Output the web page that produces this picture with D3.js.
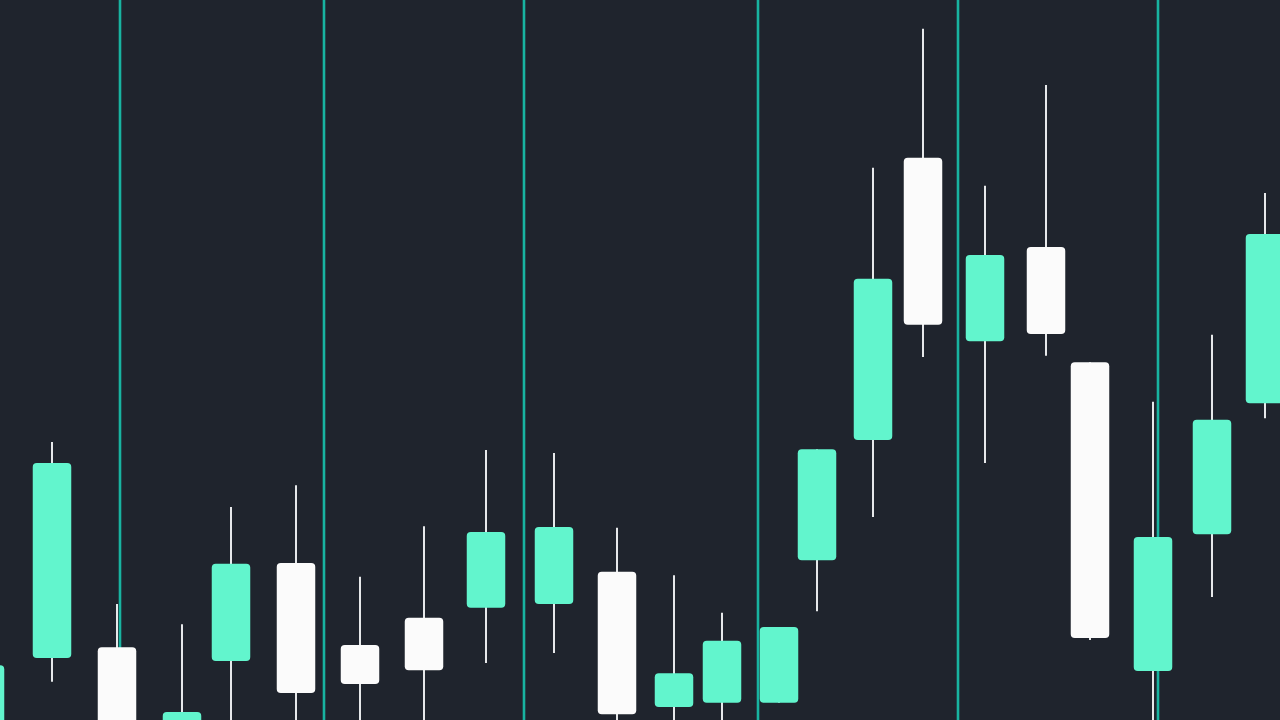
<!DOCTYPE html>
<html>
<head>
<meta charset="utf-8">
<script src="https://cdn.jsdelivr.net/npm/d3@7"></script>
<style>
  html, body { margin: 0; padding: 0; background: #1f242d; overflow: hidden; }
  svg { display: block; }
</style>
</head>
<body>
<svg id="chart" width="1280" height="720"></svg>
<script>
// ---- data ----
const times  = [-1.5, 5.2, 11.7, 18.2, 23.1, 29.6, 36.0, 42.4, 48.6, 55.4, 61.7, 67.4, 72.2, 77.9, 81.7, 87.3, 92.3, 98.5, 104.6, 109.0, 115.3, 121.2, 126.5];
const opens  = [-2.1, 8.6, 10.1, -5.6, 8.2, 21.8, 10.4, 14.2, 15.6, 16.1, 20.6, 1.8, 2.4, 2.4, 22.2, 38.9, 78.1, 52.6, 65.7, 49.7, 6.8, 25.8, 44.0];
const closes = [7.6, 35.7, -2.8, 1.1, 21.7, 3.75, 5.0, 6.9, 26.1, 26.8, 0.8, 6.5, 11.0, 12.9, 37.6, 61.3, 54.9, 64.6, 53.6, 11.4, 25.4, 41.7, 67.5];
const highs  = [7.6, 38.6, 16.1, 13.3, 29.6, 32.6, 19.9, 26.9, 37.5, 37.1, 26.7, 20.1, 14.9, 12.9, 37.6, 76.7, 96.0, 74.2, 88.2, 49.7, 44.2, 53.5, 73.2];
const lows   = [-2.8, 5.3, -4.2, -6.9, -2.8, -2.8, -2.8, -2.8, 7.9, 9.3, -2.8, -2.8, -2.8, 2.4, 15.1, 28.2, 50.4, 35.7, 50.6, 11.1, -2.8, 17.1, 41.9];
const sessionMarks = [12.0, 32.4, 52.4, 75.8, 95.8, 115.8];

const W = 1280, H = 720;
const x = d3.scaleLinear().domain([0, 128]).range([0, W]);
const y = d3.scaleLinear().domain([0, 100]).range([H, 0]);
const bodyW = x(3.85) - x(0);

const svg = d3.select("#chart");
svg.append("rect").attr("width", W).attr("height", H).attr("fill", "#1f242d");

// session lines (behind candles)
svg.append("g").selectAll("line").data(sessionMarks).join("line")
  .attr("x1", d => x(d)).attr("x2", d => x(d))
  .attr("y1", 0).attr("y2", H)
  .attr("stroke", "#18b3a0").attr("stroke-width", 2.6);

const candles = times.map((t, i) => ({ t, o: opens[i], c: closes[i], h: highs[i], l: lows[i] }));

const g = svg.append("g");
// wicks
g.selectAll("line.wick").data(candles).join("line")
  .attr("class", "wick")
  .attr("x1", d => x(d.t)).attr("x2", d => x(d.t))
  .attr("y1", d => y(d.h)).attr("y2", d => y(d.l))
  .attr("stroke", "#e6e8ea").attr("stroke-width", 2);

// bodies
g.selectAll("rect.body").data(candles).join("rect")
  .attr("class", "body")
  .attr("x", d => x(d.t) - bodyW / 2)
  .attr("width", bodyW)
  .attr("y", d => y(Math.max(d.o, d.c)))
  .attr("height", d => Math.abs(y(d.o) - y(d.c)))
  .attr("rx", 4).attr("ry", 4)
  .attr("fill", d => d.c >= d.o ? "#62f5cd" : "#fbfbfb");
</script>
</body>
</html>
